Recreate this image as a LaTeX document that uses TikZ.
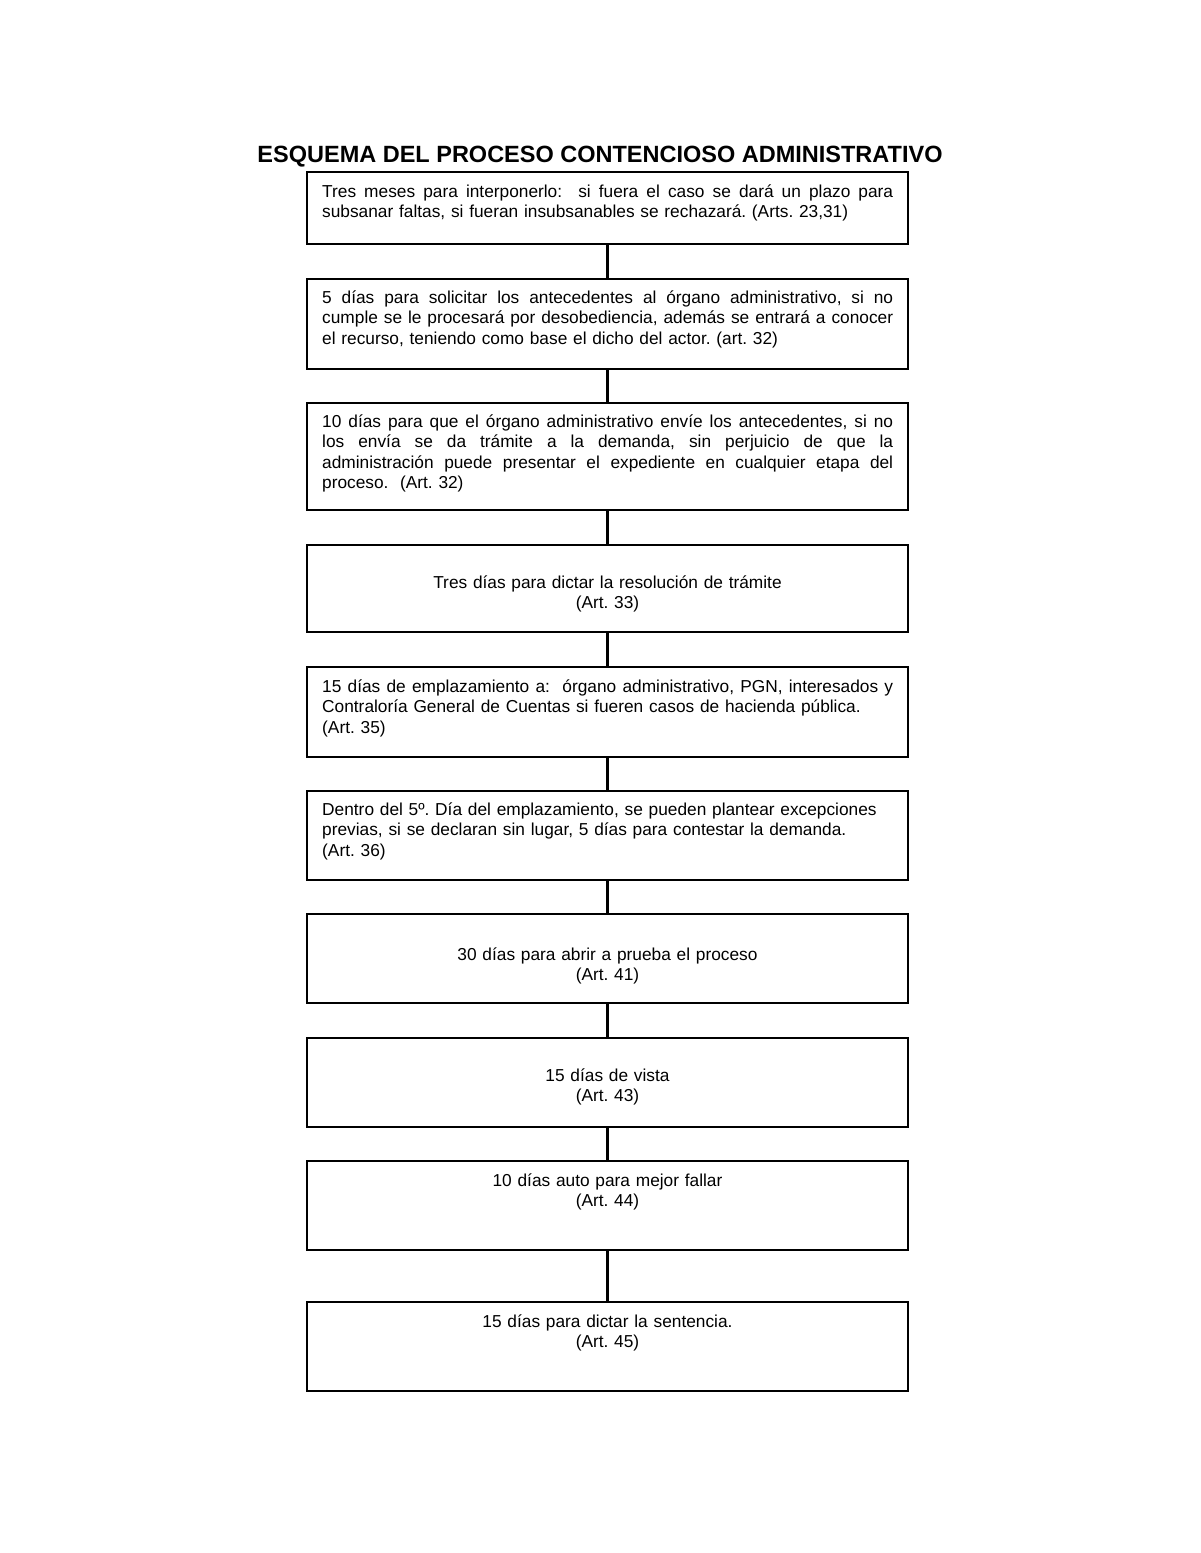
\documentclass[tikz,border=0pt]{standalone}
\usepackage{fontspec}
\setmainfont{Liberation Sans}
\frenchspacing
\newcommand\jline[1]{\leavevmode{\spaceskip=\fontdimen2\font plus 1fil minus \fontdimen4\font\xspaceskip=\spaceskip\hbox to 571pt{\strut#1}}}
\begin{document}
\begin{tikzpicture}[x=1pt,y=-1pt,
  stepbox/.style={draw=black,line width=2.6pt,minimum width=601pt,inner sep=0pt,fill=white},
  conn/.style={draw=black,line width=2.6pt},
  bodytext/.style={inner sep=0pt,font=\fontsize{17.3}{20.5}\selectfont\frenchspacing,text width=571pt},
  lefttext/.style={bodytext,anchor=north west,align=left},
  midtext/.style={bodytext,anchor=north,align=center},
  titletext/.style={inner sep=0pt,anchor=base,font=\fontsize{23.5}{27}\selectfont\bfseries}]
\useasboundingbox[fill=white] (0,0) rectangle (1200,1553);

\node[titletext] (title) at (600,162) {ESQUEMA DEL PROCESO CONTENCIOSO ADMINISTRATIVO};

\node[stepbox,minimum height=72pt] (b1) at (607.5,208) {};
\node[stepbox,minimum height=90pt] (b2) at (607.5,324) {};
\node[stepbox,minimum height=107pt] (b3) at (607.5,456.5) {};
\node[stepbox,minimum height=87pt] (b4) at (607.5,588.5) {};
\node[stepbox,minimum height=90pt] (b5) at (607.5,712) {};
\node[stepbox,minimum height=89pt] (b6) at (607.5,835.5) {};
\node[stepbox,minimum height=89pt] (b7) at (607.5,958.5) {};
\node[stepbox,minimum height=89pt] (b8) at (607.5,1082.5) {};
\node[stepbox,minimum height=89pt] (b9) at (607.5,1205.5) {};
\node[stepbox,minimum height=89pt] (b10) at (607.5,1346.5) {};

\foreach \a/\b in {b1/b2,b2/b3,b3/b4,b4/b5,b5/b6,b6/b7,b7/b8,b8/b9,b9/b10}
  \draw[conn] (\a.south) -- (\b.north);

\node[lefttext] (t1) at (322,182.6) {\jline{Tres meses para interponerlo:\ \ si fuera el caso se dará un plazo para}\\
subsanar faltas, si fueran insubsanables se rechazará. (Arts. 23,31)};

\node[lefttext] (t2) at (322,288.6) {\jline{5 días para solicitar los antecedentes al órgano administrativo, si no}\\
\jline{cumple se le procesará por desobediencia, además se entrará a conocer}\\
el recurso, teniendo como base el dicho del actor. (art. 32)};

\node[lefttext] (t3) at (322,412.6) {\jline{10 días para que el órgano administrativo envíe los antecedentes, si no}\\
\jline{los envía se da trámite a la demanda, sin perjuicio de que la}\\
\jline{administración puede presentar el expediente en cualquier etapa del}\\
proceso.\ \ (Art. 32)};

\node[midtext] (t4) at (607.5,573.6) {\strut Tres días para dictar la resolución de trámite\\(Art. 33)};

\node[lefttext] (t5) at (322,677.6) {\jline{15 días de emplazamiento a:\ \ órgano administrativo, PGN, interesados y}\\
Contraloría General de Cuentas si fueren casos de hacienda pública.\\
(Art. 35)};

\node[lefttext] (t6) at (322,800.6) {\strut Dentro del 5º. Día del emplazamiento, se pueden plantear excepciones\\
previas, si se declaran sin lugar, 5 días para contestar la demanda.\\
(Art. 36)};

\node[midtext] (t7) at (607.5,945.6) {\strut 30 días para abrir a prueba el proceso\\(Art. 41)};
\node[midtext] (t8) at (607.5,1066.6) {\strut 15 días de vista\\(Art. 43)};
\node[midtext] (t9) at (607.5,1171.6) {\strut 10 días auto para mejor fallar\\(Art. 44)};
\node[midtext] (t10) at (607.5,1312.6) {\strut 15 días para dictar la sentencia.\\(Art. 45)};
\end{tikzpicture}
\end{document}
